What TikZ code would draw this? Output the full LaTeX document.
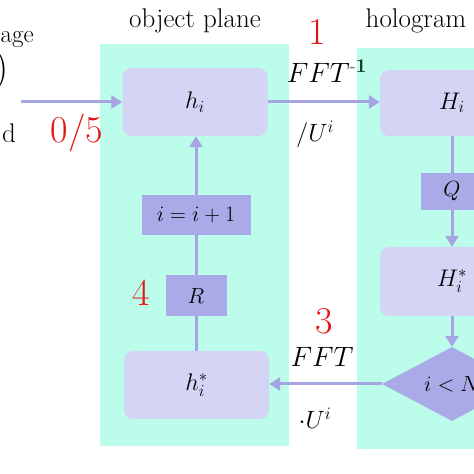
\RequirePackage{fix-cm}
\documentclass[tikz,border=0pt]{standalone}
\usepackage{amsmath,amsbsy}
\usetikzlibrary{arrows.meta,shapes.geometric}
\definecolor{panel}{RGB}{188,252,234}
\definecolor{lightbox}{RGB}{212,212,245}
\definecolor{darkbox}{RGB}{170,170,232}
\definecolor{arrowc}{RGB}{165,165,228}
\definecolor{numred}{RGB}{230,20,20}
\definecolor{supgreen}{RGB}{10,60,40}
\tikzset{
  x=1pt,y=1pt,
  roundbox/.style={fill=lightbox,rounded corners=9pt,inner sep=0pt,font=\fontsize{24}{28}\selectfont},
  sqbox/.style={fill=darkbox,inner sep=0pt,font=\fontsize{22}{26}\selectfont},
  conn/.style={draw=arrowc,line width=3pt},
  arr/.style={conn,-{Triangle[length=11pt,width=13pt]}},
  title/.style={font=\fontsize{27}{32}\selectfont,anchor=base,inner sep=0pt},
  rednum/.style={font=\fontsize{38}{42}\selectfont,text=numred,anchor=base,inner sep=0pt},
  oplabel/.style={font=\fontsize{25}{30}\selectfont,anchor=base,inner sep=0pt},
}
\begin{document}
\begin{tikzpicture}
\useasboundingbox (0,0) rectangle (474,474);
\clip (0,0) rectangle (474,474);
% panels
\fill[panel] (100,28) rectangle (289,430);
\fill[panel] (357,25) rectangle (480,426);
% boxes
\node[roundbox,minimum width=145pt,minimum height=68pt] (hi) at (195,372) {$h_i$};
\node[roundbox,minimum width=144pt,minimum height=66pt] (Hi) at (452,371) {$H_i$};
\node[sqbox,minimum width=62pt,minimum height=37pt] (Q) at (452,282.5) {$Q$};
\node[roundbox,minimum width=144pt,minimum height=69pt] (Hs) at (452,192.5) {$H_i^{*}$};
\node[diamond,fill=darkbox,inner sep=0pt,minimum width=140pt,minimum height=74pt,aspect=1.9,font=\fontsize{22}{26}\selectfont] (dec) at (452,90) {$i<N$};
\node[roundbox,minimum width=145pt,minimum height=68pt] (hs) at (196.5,89) {$h_i^{*}$};
\node[sqbox,minimum width=61pt,minimum height=41pt] (R) at (196,178.5) {$R$};
\node[sqbox,minimum width=109pt,minimum height=40pt] (inc) at (196,259) {$i=i+1$};
% input start
\coordinate (in) at (21,372);
% connectors
\draw[arr] (in) -- (hi.west);
\draw[arr] (hi.east) -- (Hi.west |- hi.east);
\draw[conn] (Hi.south) -- (Q.north);
\draw[arr] (Q.south) -- (Hs.north);
\draw[arr] (Hs.south) -- (dec.north);
\draw[arr] (dec.west) -- (hs.east |- dec.west);
\draw[conn] (R.south |- hs.north) -- (R.south);
\draw[conn] (R.north) -- (inc.south);
\draw[arr] (inc.north) -- (inc.north |- hi.south);
% titles
\node[title] (ttl1) at (195,446) {object plane};
\node[title] (ttl2) at (416,446) {hologram};
% left fragments
\node[title,font=\fontsize{25}{30}\selectfont,anchor=base west] (frag1) at (0.5,431) {age};
\node[font=\fontsize{40}{44}\selectfont,anchor=east,inner sep=0pt] (frag2) at (9,403) {)};
\node[title,anchor=base east] (frag3) at (16,331) {d};
% step numbers
\node[rednum] (n05) at (77,331) {0/5};
\node[rednum] (n1) at (317,429) {1};
\node[rednum] (n3) at (324,140) {3};
\node[rednum] (n4) at (141,168) {4};
% operator labels
\node[oplabel,font=\fontsize{28}{32}\selectfont] (fft1) at (327,391) {$FFT^{\textcolor{supgreen}{\boldsymbol{\text{-}1}}}$};
\node[oplabel] (divU) at (315,332) {$/U^{i}$};
\node[oplabel,font=\fontsize{28}{32}\selectfont] (fft) at (322,107) {$FFT$};
\node[oplabel] (mulU) at (315,45) {$\cdot U^{i}$};
\end{tikzpicture}
\end{document}
